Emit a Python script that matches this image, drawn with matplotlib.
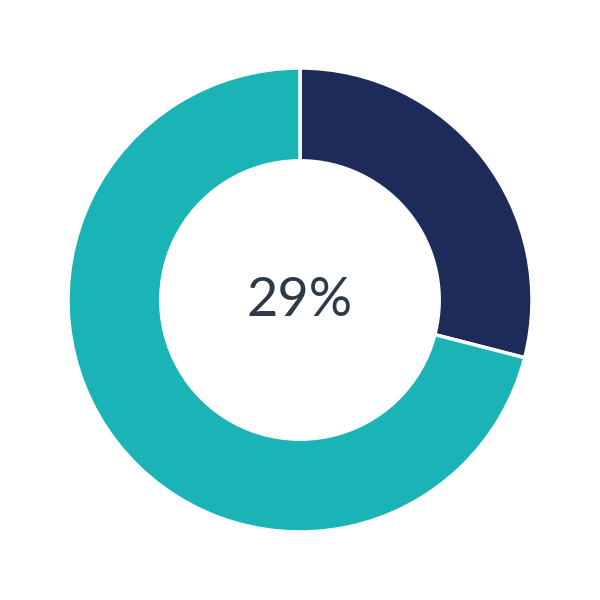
import matplotlib
matplotlib.use("Agg")
import matplotlib.pyplot as plt

labels = ["Share", "Rest"]
values = [29, 71]
colors = ["#1c2b5a", "#1ab3b6"]
center_label = "29%"

fig = plt.figure(figsize=(6, 6), dpi=100)
ax = fig.add_axes([0, 0, 1, 1])

ax.pie(values, colors=colors, startangle=90, counterclock=False,
       wedgeprops=dict(width=0.4, edgecolor="white", linewidth=2.5))
ax.text(0, 0, center_label, ha="center", va="center", fontsize=39,
        fontfamily="Lato", fontweight="normal", color="#2d3a48")

lim = 300 / 232
ax.set_xlim(-lim, lim)
ax.set_ylim(-lim, lim)
ax.set_aspect("equal")
ax.axis("off")

fig.savefig("out.png", dpi=100, facecolor="white")
